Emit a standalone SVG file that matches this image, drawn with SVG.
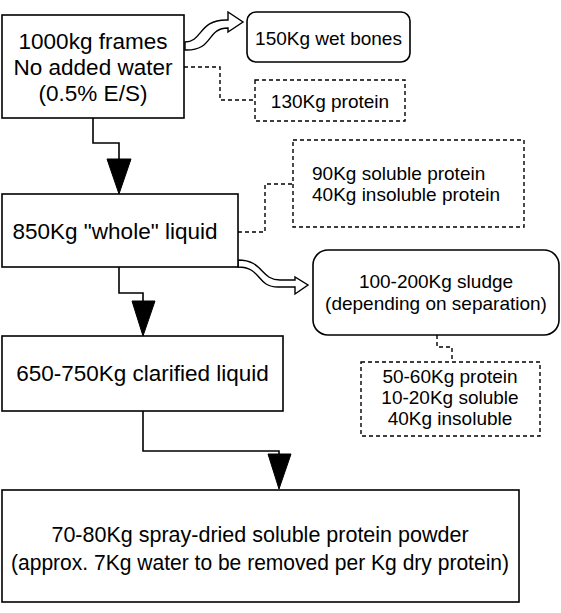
<svg xmlns="http://www.w3.org/2000/svg" width="561" height="613" viewBox="0 0 561 613">
<style>
.box{fill:#fff;stroke:#000;stroke-width:1.6}
.dbox{fill:#fff;stroke:#000;stroke-width:1.4;stroke-dasharray:4 3}
.ln{fill:none;stroke:#000;stroke-width:1.6}
.dl{fill:none;stroke:#000;stroke-width:1.4;stroke-dasharray:4 3}
.hollow{fill:#fff;stroke:#000;stroke-width:1.4;stroke-linejoin:miter}
.head{fill:#000;stroke:#000;stroke-width:1}
text{font-family:"Liberation Sans",Arial,sans-serif;fill:#000}
.big{font-size:22.5px;text-anchor:middle}
.sm{font-size:19px;text-anchor:middle}
</style>
<rect width="561" height="613" fill="#fff"/>
<g id="connectors">
<path class="ln" d="M93,118 V143 H119 V160"/>
<polygon class="head" points="107,159 131,159 119,194"/>
<path class="ln" d="M119,267 V293 H143 V302"/>
<polygon class="head" points="132,301 155,301 143,336"/>
<path class="ln" d="M143,411 V451 H279 V455"/>
<polygon class="head" points="268,454 291,454 279,489"/>
<path class="dl" d="M184,67 H220 V100 H255"/>
<path class="dl" d="M238,232 H265 V184 H293"/>
<path class="dl" d="M437,335 V347 H452 V362"/>
<path class="hollow" d="M185,42 C203,42 198,19 228,20 L228,12 L243,22 L228,32 L228,28 C206,28 214,51 185,50 Z"/>
<path class="hollow" d="M238,260 C264,260 260,280 280,280 L295,280 L295,277 L308,285 L295,294 L295,287 L278,287 C256,287 262,267 238,267 Z"/>
</g>
<g id="n1">
<rect class="box" x="2" y="15" width="182" height="103"/>
<text class="big" x="93" y="49">1000kg frames</text>
<text class="big" x="93" y="75">No added water</text>
<text class="big" x="93" y="101">(0.5% E/S)</text>
</g>
<g id="n-bones">
<rect class="box" x="247" y="12" width="163" height="50" rx="9"/>
<text class="sm" x="328.5" y="45">150Kg wet bones</text>
</g>
<g id="n-protein130">
<rect class="dbox" x="255" y="80" width="150" height="41"/>
<text class="sm" x="330" y="108">130Kg protein</text>
</g>
<g id="n2">
<rect class="box" x="2" y="194" width="236" height="73"/>
<text class="big" x="115" y="239">850Kg "whole" liquid</text>
</g>
<g id="n-soluble">
<rect class="dbox" x="293" y="140" width="231" height="87"/>
<text x="312" y="180" font-size="19">90Kg soluble protein</text>
<text x="312" y="201" font-size="19">40Kg insoluble protein</text>
</g>
<g id="n-sludge">
<rect class="box" x="313" y="250" width="246" height="85" rx="15"/>
<text class="sm" x="436" y="288">100-200Kg sludge</text>
<text class="sm" x="436" y="310">(depending on separation)</text>
</g>
<g id="n-sludge-detail">
<rect class="dbox" x="361" y="362" width="179" height="74"/>
<text class="sm" x="450" y="383">50-60Kg protein</text>
<text class="sm" x="450" y="404">10-20Kg soluble</text>
<text class="sm" x="450" y="425">40Kg insoluble</text>
</g>
<g id="n3">
<rect class="box" x="2" y="336" width="281" height="75"/>
<text class="big" x="142.5" y="381">650-750Kg clarified liquid</text>
</g>
<g id="n4">
<rect class="box" x="2" y="490" width="517" height="112"/>
<text class="big" x="260" y="542" style="font-size:21.5px">70-80Kg spray-dried soluble protein powder</text>
<text class="big" x="260" y="570" style="font-size:21.5px" textLength="498" lengthAdjust="spacingAndGlyphs">(approx. 7Kg water to be removed per Kg dry protein)</text>
</g>
</svg>
